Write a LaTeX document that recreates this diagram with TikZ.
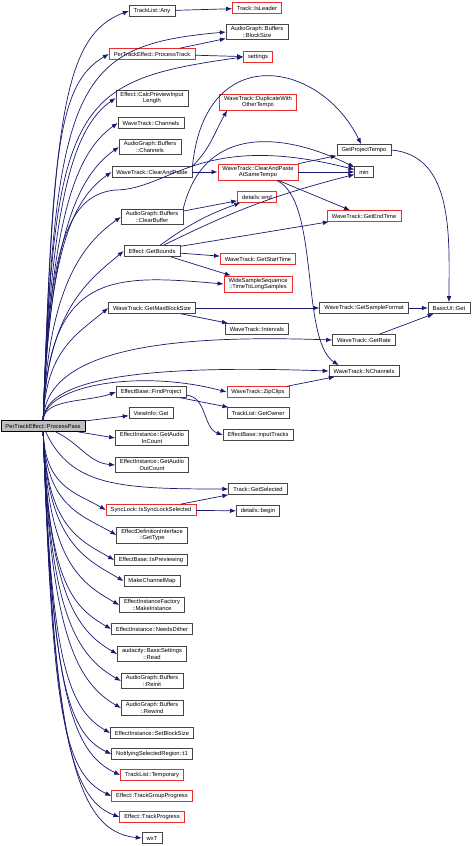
\documentclass[tikz,border=0pt]{standalone}
\usepackage{fontspec}
\setmainfont{Liberation Sans}
\usepackage{tikz}
\usetikzlibrary{arrows.meta}
\definecolor{callblue}{RGB}{25,25,112}
\definecolor{boxline}{RGB}{70,70,70}
\definecolor{extred}{RGB}{235,45,45}
\tikzset{
  fn/.style={rectangle, draw=boxline, fill=white, align=center,
             font=\fontsize{5.8}{6.9}\selectfont, inner xsep=4.6pt, inner ysep=2pt,
             minimum height=11pt, line width=0.6pt},
  ext/.style={fn, draw=extred},
  cur/.style={fn, fill=gray!50, draw=black},
  call/.style={-{Latex[length=6pt, width=4.6pt]}, draw=callblue, line width=0.7pt},
}
\begin{document}
\begin{tikzpicture}[x=1pt, y=1pt]
  \useasboundingbox (0,0) rectangle (474,-846);
  % the function itself
  \node[cur] (root) at (43,-426) {PerTrackEffect::ProcessPass};
  % direct callees
  \node[fn]  (any)      at (152,-11)  {TrackList::Any};
  \node[ext] (ptrack)   at (152,-54)  {PerTrackEffect::ProcessTrack};
  \node[fn]  (calcprev) at (152,-98)  {Effect::CalcPreviewInput\\Length};
  \node[fn]  (wtchan)   at (151,-123) {WaveTrack::Channels};
  \node[fn]  (agchan)   at (150,-147) {AudioGraph::Buffers\\::Channels};
  \node[fn]  (clrpaste) at (152,-172) {WaveTrack::ClearAndPaste};
  \node[fn]  (clrbuf)   at (152,-217) {AudioGraph::Buffers\\::ClearBuffer};
  \node[fn]  (bounds)   at (152,-251) {Effect::GetBounds};
  \node[fn]  (maxblk)   at (152,-308) {WaveTrack::GetMaxBlockSize};
  \node[fn]  (findproj) at (151,-392) {EffectBase::FindProject};
  \node[fn]  (viewinfo) at (151,-413) {ViewInfo::Get};
  \node[fn]  (incount)  at (152,-438) {EffectInstance::GetAudio\\InCount};
  \node[fn]  (outcount) at (152,-465) {EffectInstance::GetAudio\\OutCount};
  \node[ext] (synclock) at (151,-510) {SyncLock::IsSyncLockSelected};
  \node[fn]  (gettype)  at (152,-535) {EffectDefinitionInterface\\::GetType};
  \node[fn]  (preview)  at (151,-560) {EffectBase::IsPreviewing};
  \node[fn]  (chanmap)  at (152,-581) {MakeChannelMap};
  \node[fn]  (mkinst)   at (152,-605) {EffectInstanceFactory\\::MakeInstance};
  \node[fn]  (dither)   at (152,-629) {EffectInstance::NeedsDither};
  \node[fn]  (read)     at (152,-654) {audacity::BasicSettings\\::Read};
  \node[fn]  (reinit)   at (152,-681) {AudioGraph::Buffers\\::Reinit};
  \node[fn]  (rewind)   at (152,-708) {AudioGraph::Buffers\\::Rewind};
  \node[fn]  (setblk)   at (152,-733) {EffectInstance::SetBlockSize};
  \node[fn]  (t1)       at (152,-754) {NotifyingSelectedRegion::t1};
  \node[ext] (temp)     at (152,-775) {TrackList::Temporary};
  \node[ext] (grpprog)  at (152,-796) {Effect::TrackGroupProgress};
  \node[ext] (trkprog)  at (152,-817) {Effect::TrackProgress};
  \node[fn]  (wxt)      at (152,-838) {wxT};
  % second level
  \node[ext] (isleader)  at (257,-8)   {Track::IsLeader};
  \node[fn]  (blksize)   at (257,-32)  {AudioGraph::Buffers\\::BlockSize};
  \node[ext] (settings)  at (258,-57)  {settings};
  \node[ext] (dupl)      at (258,-102) {WaveTrack::DuplicateWith\\OtherTempo};
  \node[ext] (samepaste) at (258,-172) {WaveTrack::ClearAndPaste\\AtSameTempo};
  \node[ext] (dend)      at (257,-197) {details::end};
  \node[ext] (start)     at (258,-259) {WaveTrack::GetStartTime};
  \node[ext] (tolong)    at (258,-284) {WideSampleSequence\\::TimeToLongSamples};
  \node[fn]  (intervals) at (257,-329) {WaveTrack::Intervals};
  \node[ext] (zip)       at (258,-392) {WaveTrack::ZipClips};
  \node[fn]  (owner)     at (258,-413) {TrackList::GetOwner};
  \node[fn]  (inputs)    at (258,-435) {EffectBase::inputTracks};
  \node[fn]  (selected)  at (258,-489) {Track::GetSelected};
  \node[fn]  (dbegin)    at (258,-511) {details::begin};
  % third level
  \node[fn]  (tempo)   at (364,-150) {GetProjectTempo};
  \node[fn]  (min)     at (364,-172) {min};
  \node[ext] (endtime) at (364,-216) {WaveTrack::GetEndTime};
  \node[fn]  (sfmt)    at (364,-308) {WaveTrack::GetSampleFormat};
  \node[fn]  (rate)    at (364,-340) {WaveTrack::GetRate};
  \node[fn]  (nchan)   at (364,-371) {WaveTrack::NChannels};
  \node[fn]  (uiget)   at (449,-308) {BasicUI::Get};

  % calls from ProcessPass, upwards
  \foreach \t/\od/\id/\ia in {any/300/70/200, ptrack/265/60/210, calcprev/225/50/215,
      wtchan/205/50/215, agchan/185/50/215, clrpaste/165/50/215, clrbuf/135/45/215,
      bounds/110/45/220, maxblk/70/40/220, findproj/22/30/200}
    \draw[call] (root) to[out=88, in=\ia, out distance=\od, in distance=\id] (\t.west);
  \draw[call] (root) to[out=88, in=185, out distance=340, in distance=150] (blksize.west);
  \draw[call] (root) to[out=88, in=188, out distance=320, in distance=170] (settings.west);
  \draw[call] (root) .. controls (48,-240) and (70,-195) .. (115,-190)
    .. controls (170,-190) and (200,-130) .. (min);
  \draw[call] (root) to[out=88, in=175, out distance=150, in distance=110] (tolong.west);
  \draw[call] (root) to[out=88, in=178, out distance=70, in distance=170] (rate.west);
  \draw[call] (root) to[out=88, in=178, out distance=45, in distance=170] (nchan.west);
  \draw[call] (root) to[out=88, in=165, out distance=35, in distance=90] (zip.west);
  \draw[call] (root) -- (viewinfo);
  % calls from ProcessPass, downwards
  \draw[call] (root) -- (incount.west);
  \draw[call] (root) to[out=-25, in=175] (outcount.west);
  \draw[call] (root) to[out=-65, in=180, out distance=60, in distance=110] (selected.west);
  \foreach \t/\od/\id/\ia in {synclock/55/35/150, gettype/75/40/150, preview/95/40/150,
      chanmap/110/45/150, mkinst/130/45/150, dither/150/45/150, read/165/45/150,
      reinit/185/50/150, rewind/205/50/150, setblk/225/50/150, t1/240/50/155,
      temp/255/55/155, grpprog/270/55/155, trkprog/285/55/160, wxt/300/70/175}
    \draw[call] (root) to[out=-88, in=\ia, out distance=\od, in distance=\id] (\t.west);

  % deeper calls
  \draw[call] (any) -- (isleader);
  \draw[call] (ptrack) -- (blksize);
  \draw[call] (ptrack) -- (settings);
  \draw[call] (clrpaste.north east) to[out=45, in=240] ([xshift=8pt]dupl.south west);
  \draw[call] (clrpaste) -- (samepaste);
  \draw[call] (clrpaste.north east) .. controls (205,-40) and (320,-60) .. (tempo);
  \draw[call] (samepaste) -- (tempo);
  \draw[call] (samepaste) -- (min);
  \draw[call] (samepaste) -- (endtime);
  \draw[call] (samepaste) .. controls (320,-200) and (300,-340) .. ([xshift=10pt]nchan.north west);
  \draw[call] (clrbuf.north east) .. controls (205,-120) and (290,-135) .. (min);
  \draw[call] (clrbuf) -- (dend);
  \draw[call] (bounds) to[bend left=8] (dend);
  \draw[call] (bounds) to[bend left=6] (min);
  \draw[call] (bounds) -- (endtime);
  \draw[call] (bounds) -- (start);
  \draw[call] (bounds) -- (tolong);
  \draw[call] (maxblk) -- (sfmt);
  \draw[call] (maxblk) -- (intervals);
  \draw[call] (sfmt) -- (uiget);
  \draw[call] (rate) -- (uiget);
  \draw[call] (tempo.east) to[out=-5, in=90] (uiget.north);
  \draw[call] (zip) -- (nchan);
  \draw[call] (findproj) -- (owner);
  \draw[call] (findproj) to[out=-5, in=160] (inputs.west);
  \draw[call] (synclock) -- (selected);
  \draw[call] (synclock) -- (dbegin);
\end{tikzpicture}
\end{document}
